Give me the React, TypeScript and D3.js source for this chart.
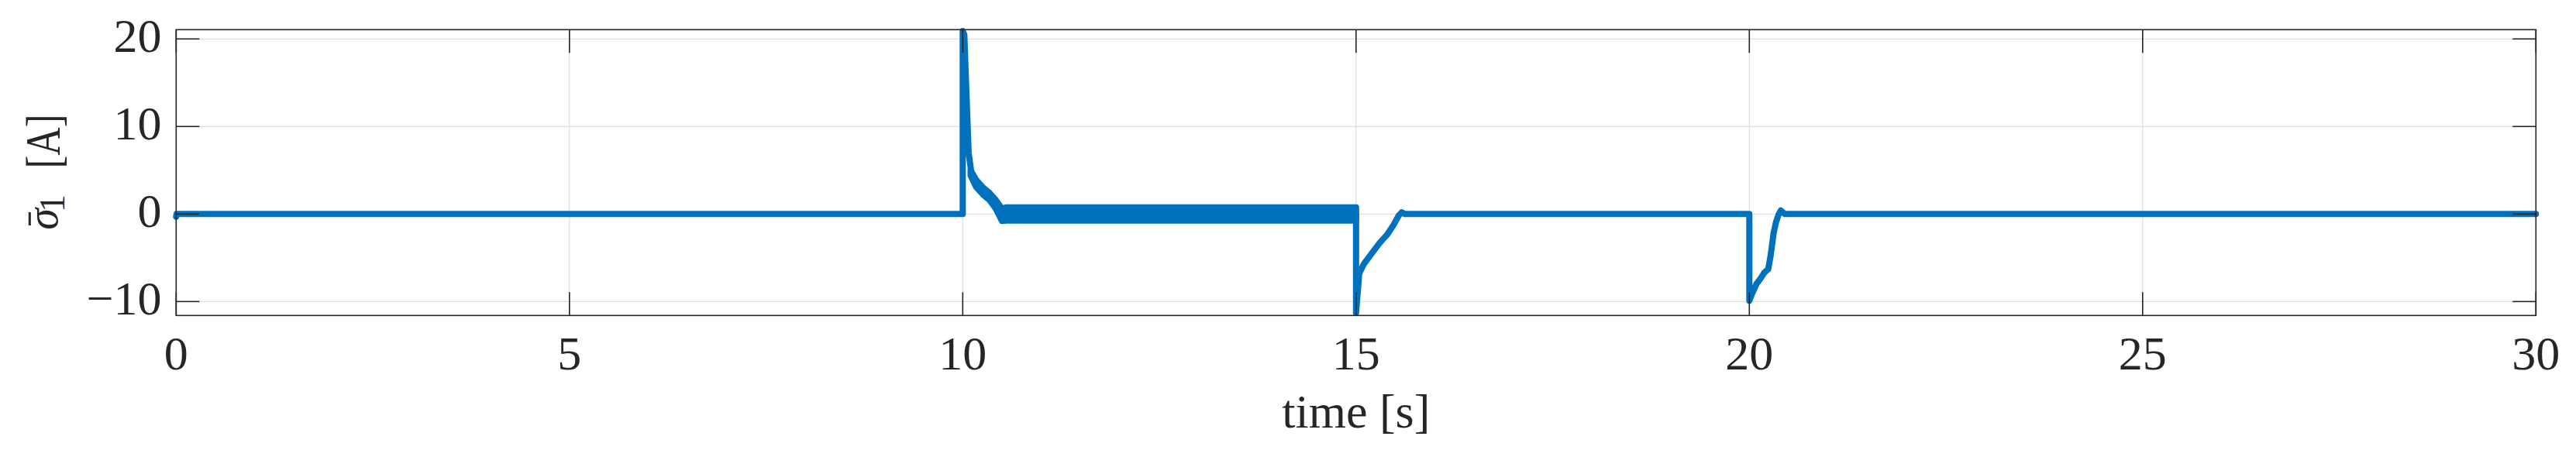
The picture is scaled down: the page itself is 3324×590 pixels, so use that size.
import { useEffect, useRef } from "react";
import * as d3 from "d3";

// main trace (time in s, value in A)
const traceT = [
  0, 0.005, 10.0, 10.0, 10.02, 10.04, 10.06, 10.075, 10.11, 10.17, 10.26, 10.34, 10.42, 10.49, 10.5,
  15.0, 15.0, 15.03, 15.04, 15.1, 15.2, 15.3, 15.4, 15.48, 15.54, 15.58, 15.62,
  20.0, 20.0, 20.03, 20.06, 20.09, 20.14, 20.19, 20.24, 20.27, 20.31, 20.34, 20.37, 20.4, 20.45, 30.0,
];
const traceV = [
  -0.3, 0, 0, 20.9, 20.5, 15.5, 10.6, 7.0, 4.7, 3.5, 2.6, 2.0, 1.1, -0.05, 0,
  0, -11.3, -8.0, -6.8, -5.7, -4.5, -3.3, -2.3, -1.2, -0.2, 0.2, 0,
  0, -9.9, -9.2, -8.6, -8.0, -7.4, -6.7, -6.3, -4.8, -2.1, -0.9, -0.1, 0.4, 0,
  0,
];

// chattering envelope (the solid band between 10 s and 15 s)
const chatterT = [10.1, 10.17, 10.26, 10.34, 10.42, 10.5, 10.55, 15.0];
const chatterHi = [5.0, 3.9, 3.0, 2.4, 1.6, 0.6, 0.75, 0.75];
const chatterLo = [4.4, 3.1, 2.2, 1.6, 0.6, -0.8, -0.75, -0.75];

const xTicks = [0, 5, 10, 15, 20, 25, 30];
const yTicks = [-10, 0, 10, 20];

const W = 3324;
const H = 590;

export default function App() {
  const ref = useRef<SVGSVGElement>(null);

  useEffect(() => {
    if (!ref.current) return;
    const svg = d3.select(ref.current);
    svg.selectAll("*").remove();

    const left = 227.3;
    const right = 3272.3;
    const top = 38.3;
    const bottom = 407.3;
    const font = "'Liberation Serif', 'Times New Roman', serif";
    const axisColor = "#262626";
    const gridColor = "#dfdfdf";
    const blue = "#0072BD";
    const tickLen = 30;

    const x = d3.scaleLinear().domain([0, 30]).range([left, right]);
    const y = d3.scaleLinear().domain([-11.59, 21.06]).range([bottom, top]);

    // grid
    svg
      .append("g")
      .selectAll("line")
      .data(xTicks)
      .enter()
      .append("line")
      .attr("x1", (d) => x(d))
      .attr("x2", (d) => x(d))
      .attr("y1", top)
      .attr("y2", bottom)
      .attr("stroke", gridColor)
      .attr("stroke-width", 1.2);
    svg
      .append("g")
      .selectAll("line")
      .data(yTicks)
      .enter()
      .append("line")
      .attr("x1", left)
      .attr("x2", right)
      .attr("y1", (d) => y(d))
      .attr("y2", (d) => y(d))
      .attr("stroke", gridColor)
      .attr("stroke-width", 1.2);

    // chatter band
    const bandIdx = d3.range(chatterT.length);
    const area = d3
      .area<number>()
      .x((i) => x(chatterT[i]))
      .y0((i) => y(chatterLo[i]))
      .y1((i) => y(chatterHi[i]));
    svg
      .append("path")
      .attr("d", area(bandIdx) ?? "")
      .attr("fill", blue)
      .attr("stroke", blue)
      .attr("stroke-width", 8)
      .attr("stroke-linejoin", "round");

    // trace
    const idx = d3.range(traceT.length);
    const line = d3
      .line<number>()
      .x((i) => x(traceT[i]))
      .y((i) => y(traceV[i]));
    svg
      .append("path")
      .attr("d", line(idx) ?? "")
      .attr("fill", "none")
      .attr("stroke", blue)
      .attr("stroke-width", 8)
      .attr("stroke-linejoin", "round")
      .attr("stroke-linecap", "round");

    // box + ticks
    const axes = svg.append("g").attr("stroke", axisColor).attr("stroke-width", 1.6);
    axes
      .append("rect")
      .attr("x", left)
      .attr("y", top)
      .attr("width", right - left)
      .attr("height", bottom - top)
      .attr("fill", "none");
    xTicks.forEach((t) => {
      axes.append("line").attr("x1", x(t)).attr("x2", x(t)).attr("y1", bottom).attr("y2", bottom - tickLen);
      axes.append("line").attr("x1", x(t)).attr("x2", x(t)).attr("y1", top).attr("y2", top + tickLen);
    });
    yTicks.forEach((v) => {
      axes.append("line").attr("x1", left).attr("x2", left + tickLen).attr("y1", y(v)).attr("y2", y(v));
      axes.append("line").attr("x1", right).attr("x2", right - tickLen).attr("y1", y(v)).attr("y2", y(v));
    });

    // tick labels
    svg
      .append("g")
      .selectAll("text")
      .data(xTicks)
      .enter()
      .append("text")
      .attr("x", (d) => x(d))
      .attr("y", 476.5)
      .attr("text-anchor", "middle")
      .attr("font-family", font)
      .attr("font-size", 62)
      .attr("fill", axisColor)
      .text((d) => String(d));
    svg
      .append("g")
      .selectAll("text")
      .data(yTicks)
      .enter()
      .append("text")
      .attr("x", 208.5)
      .attr("y", (d) => y(d) + 16.5)
      .attr("text-anchor", "end")
      .attr("font-family", font)
      .attr("font-size", 62)
      .attr("fill", axisColor)
      .text((d) => (d < 0 ? `\u2212${Math.abs(d)}` : String(d)));

    // x label
    svg
      .append("text")
      .attr("x", (left + right) / 2)
      .attr("y", 551.5)
      .attr("text-anchor", "middle")
      .attr("font-family", font)
      .attr("font-size", 62)
      .attr("fill", axisColor)
      .text("time [s]");

    // y label: sigma-bar with subscript 1, then [A]
    const ylab = svg.append("g").attr("fill", axisColor).attr("font-family", font);
    ylab
      .append("text")
      .attr("transform", "translate(73.5,283) rotate(-90)")
      .attr("text-anchor", "middle")
      .attr("font-size", 56)
      .attr("font-style", "italic")
      .text("\u03C3");
    ylab
      .append("line")
      .attr("x1", 38.3)
      .attr("x2", 38.3)
      .attr("y1", 274)
      .attr("y2", 291)
      .attr("stroke", axisColor)
      .attr("stroke-width", 3);
    ylab
      .append("text")
      .attr("transform", "translate(83.3,262.5) rotate(-90)")
      .attr("text-anchor", "middle")
      .attr("font-size", 46)
      .text("1");
    ylab
      .append("text")
      .attr("transform", "translate(77,182.5) rotate(-90)")
      .attr("text-anchor", "middle")
      .attr("font-size", 64)
      .attr("textLength", 70)
      .attr("lengthAdjust", "spacingAndGlyphs")
      .text("[A]");
  }, []);

  return (
    <div style={{ position: "absolute", left: 0, top: 0, width: W, height: H, background: "#fff" }}>
      <svg ref={ref} width={W} height={H} />
    </div>
  );
}
